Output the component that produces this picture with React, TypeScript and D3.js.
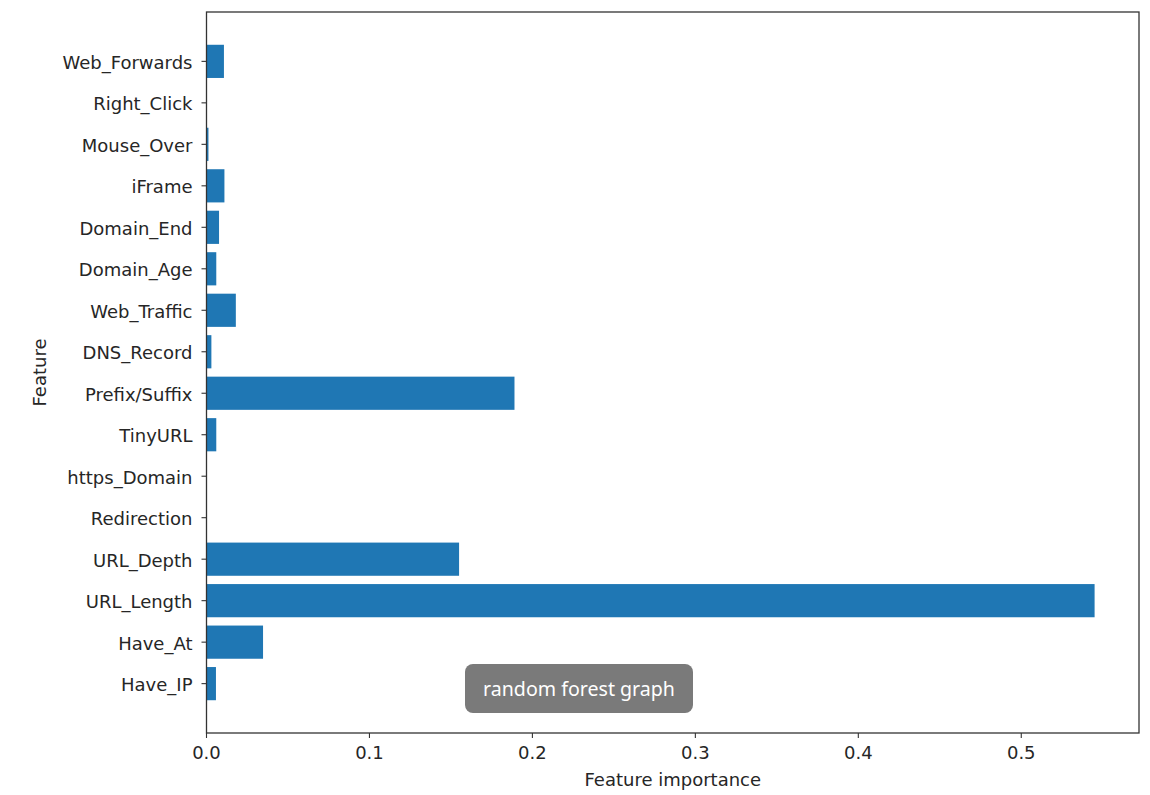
import React, { useEffect, useRef } from 'react';
import * as d3 from 'd3';

const features = [
  'Have_IP', 'Have_At', 'URL_Length', 'URL_Depth', 'Redirection', 'https_Domain',
  'TinyURL', 'Prefix/Suffix', 'DNS_Record', 'Web_Traffic', 'Domain_Age',
  'Domain_End', 'iFrame', 'Mouse_Over', 'Right_Click', 'Web_Forwards',
];
const importance = [
  0.0058, 0.0347, 0.545, 0.155, 0.0002, 0.0001,
  0.006, 0.189, 0.003, 0.018, 0.006,
  0.0077, 0.011, 0.0012, 0.0002, 0.0107,
];
const xTicks = [0, 0.1, 0.2, 0.3, 0.4, 0.5];

const WIDTH = 1150;
const HEIGHT = 795;
const margin = { left: 206.5, right: 11, top: 12, bottom: 62 };
const FONT = 'DejaVu Sans, sans-serif';
const FS = 18;

const App: React.FC = () => {
  const svgRef = useRef<SVGSVGElement>(null);

  useEffect(() => {
    if (!svgRef.current) return;
    const svg = d3.select(svgRef.current);
    svg.selectAll('*').remove();

    const x0 = margin.left;
    const x1 = WIDTH - margin.right;
    const y0 = margin.top;
    const y1 = HEIGHT - margin.bottom;

    // matplotlib-style limits: 5% margin, bar height 0.8
    const maxVal = d3.max(importance) as number;
    const x = d3.scaleLinear().domain([0, maxVal * 1.05]).range([x0, x1]);
    const n = features.length;
    const lo = -0.4, hi = n - 1 + 0.4;
    const pad = (hi - lo) * 0.05;
    const y = d3.scaleLinear().domain([lo - pad, hi + pad]).range([y1, y0]);
    const barH = y(0) - y(0.8);

    svg.append('rect').attr('x', 0).attr('y', 0).attr('width', WIDTH).attr('height', HEIGHT).attr('fill', '#fff');

    svg.append('g')
      .selectAll('rect')
      .data(importance)
      .join('rect')
      .attr('x', x(0))
      .attr('y', (_, i) => y(i + 0.4))
      .attr('width', d => x(d) - x(0))
      .attr('height', barH)
      .attr('fill', '#1f77b4');

    // frame
    svg.append('rect')
      .attr('x', x0).attr('y', y0)
      .attr('width', x1 - x0).attr('height', y1 - y0)
      .attr('fill', 'none').attr('stroke', '#333').attr('stroke-width', 1.3);

    // x ticks
    const xt = svg.append('g');
    xTicks.forEach(t => {
      xt.append('line')
        .attr('x1', x(t)).attr('x2', x(t))
        .attr('y1', y1).attr('y2', y1 + 5)
        .attr('stroke', '#333').attr('stroke-width', 1.1);
      xt.append('text')
        .attr('x', x(t)).attr('y', y1 + 26)
        .attr('text-anchor', 'middle')
        .attr('font-family', FONT).attr('font-size', FS)
        .attr('fill', '#262626')
        .text(t.toFixed(1));
    });

    // y ticks
    const yt = svg.append('g');
    features.forEach((f, i) => {
      yt.append('line')
        .attr('x1', x0 - 5).attr('x2', x0)
        .attr('y1', y(i)).attr('y2', y(i))
        .attr('stroke', '#333').attr('stroke-width', 1.1);
      yt.append('text')
        .attr('x', x0 - 14).attr('y', y(i) + 1)
        .attr('dy', '0.36em')
        .attr('text-anchor', 'end')
        .attr('font-family', FONT).attr('font-size', FS)
        .attr('fill', '#262626')
        .text(f);
    });

    svg.append('text')
      .attr('x', (x0 + x1) / 2).attr('y', y1 + 53)
      .attr('text-anchor', 'middle')
      .attr('font-family', FONT).attr('font-size', FS)
      .attr('fill', '#262626')
      .text('Feature importance');

    svg.append('text')
      .attr('transform', `translate(46,${(y0 + y1) / 2}) rotate(-90)`)
      .attr('text-anchor', 'middle')
      .attr('font-family', FONT).attr('font-size', FS)
      .attr('fill', '#262626')
      .text('Feature');

    // caption overlay
    const cap = svg.append('g');
    cap.append('rect')
      .attr('x', 465).attr('y', 664)
      .attr('width', 228).attr('height', 49)
      .attr('rx', 8)
      .attr('fill', '#7a7a7a');
    cap.append('text')
      .attr('x', 579).attr('y', 689)
      .attr('dy', '0.36em')
      .attr('text-anchor', 'middle')
      .attr('font-family', 'Noto Sans, Open Sans, sans-serif').attr('font-size', 19.6)
      .attr('fill', '#fff')
      .text('random forest graph');
  }, []);

  return (
    <div style={{ position: 'absolute', left: 0, top: 0 }}>
      <svg ref={svgRef} width={WIDTH} height={HEIGHT} />
    </div>
  );
};

export default App;
